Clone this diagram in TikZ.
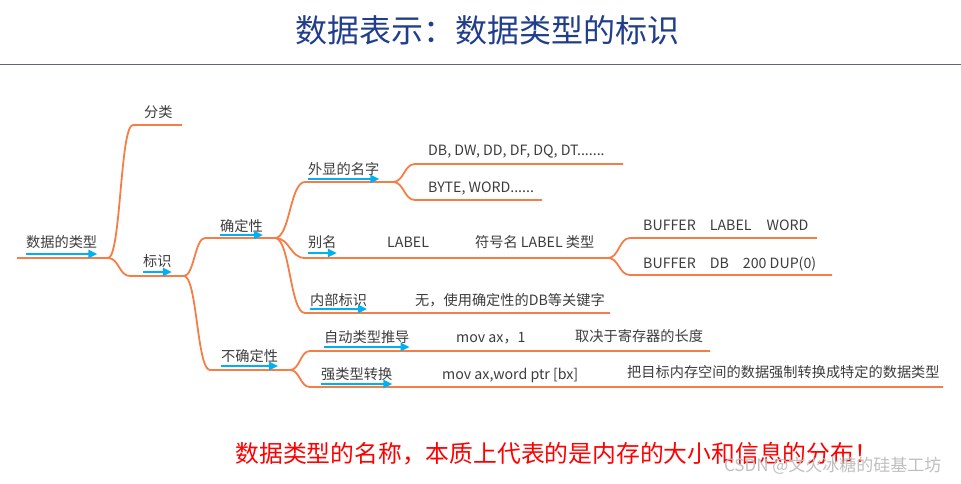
\documentclass[tikz,border=0pt]{standalone}
\usepackage{fontspec}
\usepackage{xcolor}
\usetikzlibrary{arrows.meta}
\newfontfamily\cjk{Noto Sans CJK SC}
\definecolor{mapline}{RGB}{245,125,70}
\definecolor{markblue}{RGB}{0,176,240}
\definecolor{titleblue}{RGB}{32,62,140}
\definecolor{rulegray}{RGB}{95,102,118}
\definecolor{textgray}{RGB}{60,60,60}
\definecolor{notered}{RGB}{255,0,0}

\begin{document}
\begin{tikzpicture}[x=1pt,y=-1pt,
    branch/.style={mapline,line width=1.8pt},
    topic/.style={anchor=base west,inner sep=0pt,text=textgray,
                  font=\cjk\fontsize{14.2}{16}\selectfont},
    idarrow/.style={markblue,line width=2.2pt,-{Triangle[length=9pt,width=8pt]}}]
        \useasboundingbox (0,0) rectangle (961,483);
        \node[font=\cjk\fontsize{32}{36}\selectfont,text=titleblue] (title) at (487,30) {数据表示：数据类型的标识};
        \draw[rulegray,line width=1pt] (0,64) -- (961,64);

        \coordinate (r0) at (17,258);   \coordinate (r1) at (108,258);
        \coordinate (f0) at (133,125);  \coordinate (f1) at (182,125);
        \coordinate (b0) at (130,276);  \coordinate (b1) at (184,276);
        \coordinate (q0) at (205,238);  \coordinate (q1) at (275,238);
        \coordinate (u0) at (210,370);  \coordinate (u1) at (290,370);
        \coordinate (w0) at (305,182);  \coordinate (w1) at (393,182);
        \coordinate (a0) at (305,258);  \coordinate (a1) at (608,258);
        \coordinate (n0) at (305,313);  \coordinate (n1) at (610,313);
        \coordinate (d0) at (415,164);  \coordinate (d1) at (623,164);
        \coordinate (y0) at (415,200);  \coordinate (y1) at (542,200);
        \coordinate (k0) at (630,238);  \coordinate (k1) at (817,238);
        \coordinate (m0) at (630,275);  \coordinate (m1) at (832,275);
        \coordinate (z0) at (310,351);  \coordinate (z1) at (710,351);
        \coordinate (s0) at (310,387);  \coordinate (s1) at (943,387);

        \draw[branch] (r0) -- (r1) .. controls +(13,0) and +(-13,0) .. (f0) -- (f1);
        \draw[branch] (r1) .. controls +(11,0) and +(-11,0) .. (b0) -- (b1);
        \draw[branch] (b1) .. controls +(10,0) and +(-10,0) .. (q0) -- (q1);
        \draw[branch] (b1) .. controls +(13,0) and +(-13,0) .. (u0) -- (u1);
        \draw[branch] (q1) .. controls +(15,0) and +(-15,0) .. (w0) -- (w1);
        \draw[branch] (q1) .. controls +(15,0) and +(-15,0) .. (a0) -- (a1);
        \draw[branch] (q1) .. controls +(15,0) and +(-15,0) .. (n0) -- (n1);
        \draw[branch] (w1) .. controls +(11,0) and +(-11,0) .. (d0) -- (d1);
        \draw[branch] (w1) .. controls +(11,0) and +(-11,0) .. (y0) -- (y1);
        \draw[branch] (a1) .. controls +(11,0) and +(-11,0) .. (k0) -- (k1);
        \draw[branch] (a1) .. controls +(11,0) and +(-11,0) .. (m0) -- (m1);
        \draw[branch] (u1) .. controls +(10,0) and +(-10,0) .. (z0) -- (z1);
        \draw[branch] (u1) .. controls +(10,0) and +(-10,0) .. (s0) -- (s1);

        \node[topic] (t-root) at (26,247) {数据的类型};
        \node[topic] (t-fenlei) at (144,117) {分类};
        \node[topic] (t-biaoshi) at (143,266) {标识};
        \node[topic] (t-queding) at (220,231) {确定性};
        \node[topic] (t-buqueding) at (221,361) {不确定性};
        \node[topic] (t-waixian) at (308,174) {外显的名字};
        \node[topic] (t-bieming) at (308,247) {别名};
        \node[topic] (t-label) at (387,247) {LABEL};
        \node[topic] (t-fuhao) at (475,247) {符号名 LABEL 类型};
        \node[topic] (t-neibu) at (310,305) {内部标识};
        \node[topic] (t-wu) at (415,305) {无，使用确定性的DB等关键字};
        \node[topic] (t-db) at (428,155) {DB, DW, DD, DF, DQ, DT.......};
        \node[topic] (t-byte) at (428,192) {BYTE, WORD......};
        \node[topic] (t-buf1) at (643,230) {BUFFER\hspace{14pt}LABEL\hspace{15pt}WORD};
        \node[topic] (t-buf2) at (643,268) {BUFFER\hspace{14pt}DB\hspace{14pt}200 DUP(0)};
        \node[topic] (t-zidong) at (324,342) {自动类型推导};
        \node[topic] (t-movax) at (456,342) {mov ax，1};
        \node[topic] (t-qujue) at (575,341) {取决于寄存器的长度};
        \node[topic] (t-qiang) at (321,379) {强类型转换};
        \node[topic] (t-movword) at (442,379) {mov ax,word ptr [bx]};
        \node[topic] (t-ba) at (627,377) {把目标内存空间的数据强制转换成特定的数据类型};

        \draw[idarrow] ([yshift=4pt]t-root.west |- r0) -- ([yshift=4pt]t-root.east |- r0);
        \draw[idarrow] ([yshift=4pt]t-biaoshi.west |- b0) -- ([yshift=4pt]t-biaoshi.east |- b0);
        \draw[idarrow] ([yshift=3pt]t-queding.west |- q0) -- ([yshift=3pt]t-queding.east |- q0);
        \draw[idarrow] ([yshift=4pt]t-buqueding.west |- u0) -- ([yshift=4pt]t-buqueding.east |- u0);
        \draw[idarrow] ([yshift=3pt]t-waixian.west |- w0) -- ([yshift=3pt]t-waixian.east |- w0);
        \draw[idarrow] ([yshift=5pt]t-bieming.west |- a0) -- ([yshift=5pt]t-bieming.east |- a0);
        \draw[idarrow] ([yshift=4pt]t-neibu.west |- n0) -- ([yshift=4pt]t-neibu.east |- n0);
        \draw[idarrow] ([yshift=4pt]t-zidong.west |- z0) -- ([yshift=4pt]t-zidong.east |- z0);
        \draw[idarrow] ([yshift=3pt]t-qiang.west |- s0) -- ([yshift=3pt]t-qiang.east |- s0);

        \node[font=\cjk\fontsize{23.8}{26}\selectfont,text=notered,anchor=west] (note) at (232,454)
          {数据类型的名称，本质上代表的是内存的大小和信息的分布！};
        \node[font=\cjk\fontsize{17}{19}\selectfont,text=gray!50,anchor=east] (mark) at (945,466)
          {CSDN @文火冰糖的硅基工坊};
      \end{tikzpicture}
\end{document}
